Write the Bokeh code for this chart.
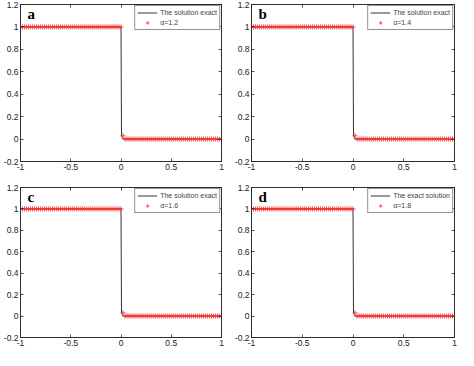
from bokeh.plotting import figure
from bokeh.models import FixedTicker, LinearAxis, Label, Range1d, Legend, LegendItem
from bokeh.models import CustomLabelingPolicy
from bokeh.layouts import column, row
from bokeh.embed import file_html
from bokeh.resources import INLINE

# ---- data ----
x_nodes = [
    -1.00, -0.98, -0.96, -0.94, -0.92, -0.90, -0.88, -0.86, -0.84, -0.82,
    -0.80, -0.78, -0.76, -0.74, -0.72, -0.70, -0.68, -0.66, -0.64, -0.62,
    -0.60, -0.58, -0.56, -0.54, -0.52, -0.50, -0.48, -0.46, -0.44, -0.42,
    -0.40, -0.38, -0.36, -0.34, -0.32, -0.30, -0.28, -0.26, -0.24, -0.22,
    -0.20, -0.18, -0.16, -0.14, -0.12, -0.10, -0.08, -0.06, -0.04, -0.02,
    0.00,
    0.02, 0.04, 0.06, 0.08, 0.10, 0.12, 0.14, 0.16, 0.18, 0.20,
    0.22, 0.24, 0.26, 0.28, 0.30, 0.32, 0.34, 0.36, 0.38, 0.40,
    0.42, 0.44, 0.46, 0.48, 0.50, 0.52, 0.54, 0.56, 0.58, 0.60,
    0.62, 0.64, 0.66, 0.68, 0.70, 0.72, 0.74, 0.76, 0.78, 0.80,
    0.82, 0.84, 0.86, 0.88, 0.90, 0.92, 0.94, 0.96, 0.98, 1.00,
]
u_numeric = [
    1, 1, 1, 1, 1, 1, 1, 1, 1, 1,
    1, 1, 1, 1, 1, 1, 1, 1, 1, 1,
    1, 1, 1, 1, 1, 1, 1, 1, 1, 1,
    1, 1, 1, 1, 1, 1, 1, 1, 1, 1,
    1, 1, 1, 1, 1, 1, 1, 1, 1, 1,
    1,
    0.03, 0, 0, 0, 0, 0, 0, 0, 0, 0,
    0, 0, 0, 0, 0, 0, 0, 0, 0, 0,
    0, 0, 0, 0, 0, 0, 0, 0, 0, 0,
    0, 0, 0, 0, 0, 0, 0, 0, 0, 0,
    0, 0, 0, 0, 0, 0, 0, 0, 0, 0,
]
exact_x = [-1.0, 0.0, 0.005, 0.02, 1.0]
exact_y = [1.0, 1.0, 0.03, 0.0, 0.0]

panel_letters = ["a", "b", "c", "d"]
alpha_labels = ["\u03b1=1.2", "\u03b1=1.4", "\u03b1=1.6", "\u03b1=1.8"]
exact_labels = ["The solution exact", "The solution exact", "The solution exact", "The exact solution"]

x_ticks = [-1, -0.5, 0, 0.5, 1]
x_tick_labels = ["-1", "-0.5", "0", "0.5", "1"]
y_ticks = [-0.2, 0, 0.2, 0.4, 0.6, 0.8, 1, 1.2]
y_tick_labels = ["-0.2", "0", "0.2", "0.4", "0.6", "0.8", "1", "1.2"]

# borders (left, right, top, bottom) per panel
borders = [(18, 8, 4, 14), (22, 4, 4, 14), (18, 8, 9, 13), (22, 4, 12, 11)]

FONT = "Liberation Sans"
AX = "#262626"

HIDE_ALL = "const all = Array.from(indices); for (const i of all) { indices.unset(i) } return indices"


def style_axis(ax, ticks, labs, show_labels=True):
    ax.ticker = FixedTicker(ticks=ticks)
    ax.major_tick_in = 3
    ax.major_tick_out = 0
    ax.minor_tick_in = 0
    ax.minor_tick_out = 0
    ax.axis_line_color = AX
    ax.axis_line_width = 0.8
    ax.major_tick_line_color = AX
    ax.major_tick_line_width = 0.8
    ax.major_label_text_font = FONT
    ax.major_label_text_color = "#222222"
    if show_labels:
        ax.major_label_text_font_size = "8.5px"
        ax.major_label_overrides = {k: v for k, v in zip(ticks, labs)}
        ax.major_label_standoff = 2
    else:
        ax.major_label_text_font_size = "0px"
        ax.major_label_policy = CustomLabelingPolicy(code=HIDE_ALL)
        ax.major_label_standoff = 0


def make_panel(i):
    l, r, t, b = borders[i]
    p = figure(width=229, height=175, output_backend="svg", toolbar_location=None,
               x_range=Range1d(-1, 1), y_range=Range1d(-0.2, 1.2),
               min_border_left=l, min_border_right=r, min_border_top=t, min_border_bottom=b)
    p.grid.visible = False
    p.outline_line_color = AX
    p.outline_line_width = 0.8
    p.background_fill_color = "white"
    p.border_fill_color = "white"

    style_axis(p.xaxis[0], x_ticks, x_tick_labels)
    style_axis(p.yaxis[0], y_ticks, y_tick_labels)
    top_ax = LinearAxis()
    right_ax = LinearAxis()
    style_axis(top_ax, x_ticks, x_tick_labels, show_labels=False)
    style_axis(right_ax, y_ticks, y_tick_labels, show_labels=False)
    p.add_layout(top_ax, "above")
    p.add_layout(right_ax, "right")

    line = p.line(exact_x, exact_y, line_color="#333333", line_width=1)
    pts = p.scatter(x_nodes, u_numeric, marker="cross", size=5, line_color="#ff2a2a",
                    line_width=1, line_alpha=0.85)

    legend = Legend(items=[LegendItem(label=exact_labels[i], renderers=[line]),
                           LegendItem(label=alpha_labels[i], renderers=[pts])],
                    location="top_right")
    legend.label_text_font = FONT
    legend.label_text_font_size = "7px"
    legend.label_height = 9
    legend.glyph_height = 9
    legend.glyph_width = 20
    legend.label_standoff = 3
    legend.padding = 2
    legend.spacing = 1
    legend.margin = 1
    legend.border_line_color = AX
    legend.border_line_width = 0.8
    legend.background_fill_alpha = 1
    p.add_layout(legend)

    p.add_layout(Label(x=-1, y=1.2, x_offset=7, y_offset=-1, text_baseline="top",
                       text=panel_letters[i], text_font="Liberation Serif",
                       text_font_style="bold", text_font_size="15px", text_color="black"))
    return p


panels = [make_panel(i) for i in range(4)]
layout = column(row(panels[0], panels[1]), row(panels[2], panels[3]))

open("out.html", "w").write(file_html(layout, INLINE))
